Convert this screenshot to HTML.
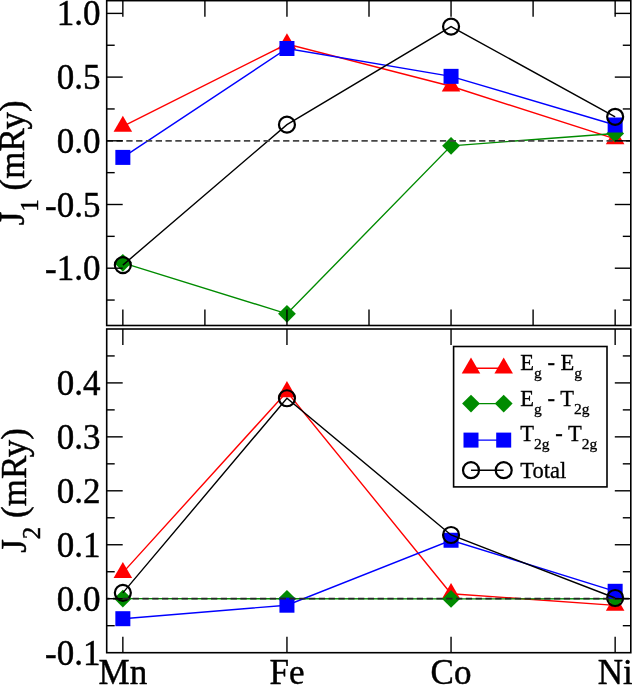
<!DOCTYPE html>
<html><head><meta charset="utf-8"><title>J1 J2 exchange</title>
<style>
html,body{margin:0;padding:0;background:#fff;}
body{width:632px;height:685px;overflow:hidden;}
svg{display:block;}
</style></head><body>
<svg width="632" height="685" viewBox="0 0 632 685">
<rect width="632" height="685" fill="#fff"/>
<g>
<polyline points="122.85,126.4 286.95,44 451.05,86.25 615.15,138.85" fill="none" stroke="#ff0000" stroke-width="1.4" stroke-linejoin="miter"/>
<polygon points="122.85,115.7 113.58,131.75 132.12,131.75" fill="#ff0000"/>
<polygon points="286.95,33.3 277.68,49.35 296.22,49.35" fill="#ff0000"/>
<polygon points="451.05,75.55 441.78,91.6 460.32,91.6" fill="#ff0000"/>
<polygon points="615.15,128.15 605.88,144.2 624.42,144.2" fill="#ff0000"/>
<polyline points="122.85,262.8 286.95,313.8 451.05,145.85 615.15,133.5" fill="none" stroke="#008b00" stroke-width="1.4" stroke-linejoin="miter"/>
<polygon points="122.85,253.9 131.75,262.8 122.85,271.7 113.95,262.8" fill="#008b00"/>
<polygon points="286.95,304.9 295.85,313.8 286.95,322.7 278.05,313.8" fill="#008b00"/>
<polygon points="451.05,136.95 459.95,145.85 451.05,154.75 442.15,145.85" fill="#008b00"/>
<polygon points="615.15,124.6 624.05,133.5 615.15,142.4 606.25,133.5" fill="#008b00"/>
<polyline points="122.85,157.4 286.95,48.5 451.05,76.35 615.15,125" fill="none" stroke="#0000ff" stroke-width="1.4" stroke-linejoin="miter"/>
<rect x="115.35" y="149.9" width="15" height="15" fill="#0000ff"/>
<rect x="279.45" y="41" width="15" height="15" fill="#0000ff"/>
<rect x="443.55" y="68.85" width="15" height="15" fill="#0000ff"/>
<rect x="607.65" y="117.5" width="15" height="15" fill="#0000ff"/>
<polyline points="122.85,265.1 286.95,124.65 451.05,26.6 615.15,116.8" fill="none" stroke="#000000" stroke-width="1.4" stroke-linejoin="miter"/>
<circle cx="122.85" cy="265.1" r="8" fill="none" stroke="#000000" stroke-width="2.2"/>
<circle cx="286.95" cy="124.65" r="8" fill="none" stroke="#000000" stroke-width="2.2"/>
<circle cx="451.05" cy="26.6" r="8" fill="none" stroke="#000000" stroke-width="2.2"/>
<circle cx="615.15" cy="116.8" r="8" fill="none" stroke="#000000" stroke-width="2.2"/>
<line x1="106.7" y1="140.8" x2="630.8" y2="140.8" stroke="#454545" stroke-width="1.8" stroke-dasharray="6.3 3.5"/>
<line x1="106.7" y1="268.2" x2="122.7" y2="268.2" stroke="#000000" stroke-width="1.4"/>
<line x1="614.8" y1="268.2" x2="630.8" y2="268.2" stroke="#000000" stroke-width="1.4"/>
<line x1="106.7" y1="204.5" x2="122.7" y2="204.5" stroke="#000000" stroke-width="1.4"/>
<line x1="614.8" y1="204.5" x2="630.8" y2="204.5" stroke="#000000" stroke-width="1.4"/>
<line x1="106.7" y1="140.8" x2="122.7" y2="140.8" stroke="#000000" stroke-width="1.4"/>
<line x1="614.8" y1="140.8" x2="630.8" y2="140.8" stroke="#000000" stroke-width="1.4"/>
<line x1="106.7" y1="77.1" x2="122.7" y2="77.1" stroke="#000000" stroke-width="1.4"/>
<line x1="614.8" y1="77.1" x2="630.8" y2="77.1" stroke="#000000" stroke-width="1.4"/>
<line x1="106.7" y1="13.4" x2="122.7" y2="13.4" stroke="#000000" stroke-width="1.4"/>
<line x1="614.8" y1="13.4" x2="630.8" y2="13.4" stroke="#000000" stroke-width="1.4"/>
<line x1="106.7" y1="300.05" x2="114.7" y2="300.05" stroke="#000000" stroke-width="1.4"/>
<line x1="622.8" y1="300.05" x2="630.8" y2="300.05" stroke="#000000" stroke-width="1.4"/>
<line x1="106.7" y1="236.35" x2="114.7" y2="236.35" stroke="#000000" stroke-width="1.4"/>
<line x1="622.8" y1="236.35" x2="630.8" y2="236.35" stroke="#000000" stroke-width="1.4"/>
<line x1="106.7" y1="172.65" x2="114.7" y2="172.65" stroke="#000000" stroke-width="1.4"/>
<line x1="622.8" y1="172.65" x2="630.8" y2="172.65" stroke="#000000" stroke-width="1.4"/>
<line x1="106.7" y1="108.95" x2="114.7" y2="108.95" stroke="#000000" stroke-width="1.4"/>
<line x1="622.8" y1="108.95" x2="630.8" y2="108.95" stroke="#000000" stroke-width="1.4"/>
<line x1="106.7" y1="45.25" x2="114.7" y2="45.25" stroke="#000000" stroke-width="1.4"/>
<line x1="622.8" y1="45.25" x2="630.8" y2="45.25" stroke="#000000" stroke-width="1.4"/>
<line x1="122.85" y1="0.66" x2="122.85" y2="16.66" stroke="#000000" stroke-width="1.4"/>
<line x1="122.85" y1="309.5" x2="122.85" y2="325.5" stroke="#000000" stroke-width="1.4"/>
<line x1="204.9" y1="0.66" x2="204.9" y2="16.66" stroke="#000000" stroke-width="1.4"/>
<line x1="204.9" y1="309.5" x2="204.9" y2="325.5" stroke="#000000" stroke-width="1.4"/>
<line x1="286.95" y1="0.66" x2="286.95" y2="16.66" stroke="#000000" stroke-width="1.4"/>
<line x1="286.95" y1="309.5" x2="286.95" y2="325.5" stroke="#000000" stroke-width="1.4"/>
<line x1="369" y1="0.66" x2="369" y2="16.66" stroke="#000000" stroke-width="1.4"/>
<line x1="369" y1="309.5" x2="369" y2="325.5" stroke="#000000" stroke-width="1.4"/>
<line x1="451.05" y1="0.66" x2="451.05" y2="16.66" stroke="#000000" stroke-width="1.4"/>
<line x1="451.05" y1="309.5" x2="451.05" y2="325.5" stroke="#000000" stroke-width="1.4"/>
<line x1="533.1" y1="0.66" x2="533.1" y2="16.66" stroke="#000000" stroke-width="1.4"/>
<line x1="533.1" y1="309.5" x2="533.1" y2="325.5" stroke="#000000" stroke-width="1.4"/>
<line x1="615.15" y1="0.66" x2="615.15" y2="16.66" stroke="#000000" stroke-width="1.4"/>
<line x1="615.15" y1="309.5" x2="615.15" y2="325.5" stroke="#000000" stroke-width="1.4"/>
<rect x="106.7" y="0.66" width="524.1" height="324.84" fill="none" stroke="#000" stroke-width="1.6"/>
</g>
<g>
<polyline points="122.85,572.6 286.95,391.8 451.05,593.7 615.15,605.35" fill="none" stroke="#ff0000" stroke-width="1.4" stroke-linejoin="miter"/>
<polygon points="122.85,561.9 113.58,577.95 132.12,577.95" fill="#ff0000"/>
<polygon points="286.95,381.1 277.68,397.15 296.22,397.15" fill="#ff0000"/>
<polygon points="451.05,583 441.78,599.05 460.32,599.05" fill="#ff0000"/>
<polygon points="615.15,594.65 605.88,610.7 624.42,610.7" fill="#ff0000"/>
<polyline points="122.85,598.6 286.95,598.8 451.05,598.9 615.15,598.7" fill="none" stroke="#008b00" stroke-width="1.4" stroke-linejoin="miter"/>
<polygon points="122.85,589.7 131.75,598.6 122.85,607.5 113.95,598.6" fill="#008b00"/>
<polygon points="286.95,589.9 295.85,598.8 286.95,607.7 278.05,598.8" fill="#008b00"/>
<polygon points="451.05,590 459.95,598.9 451.05,607.8 442.15,598.9" fill="#008b00"/>
<polygon points="615.15,589.8 624.05,598.7 615.15,607.6 606.25,598.7" fill="#008b00"/>
<polyline points="122.85,618.7 286.95,605.2 451.05,540.25 615.15,591.3" fill="none" stroke="#0000ff" stroke-width="1.4" stroke-linejoin="miter"/>
<rect x="115.35" y="611.2" width="15" height="15" fill="#0000ff"/>
<rect x="279.45" y="597.7" width="15" height="15" fill="#0000ff"/>
<rect x="443.55" y="532.75" width="15" height="15" fill="#0000ff"/>
<rect x="607.65" y="583.8" width="15" height="15" fill="#0000ff"/>
<polyline points="122.85,592.85 286.95,398.25 451.05,535 615.15,598" fill="none" stroke="#000000" stroke-width="1.4" stroke-linejoin="miter"/>
<circle cx="122.85" cy="592.85" r="8" fill="none" stroke="#000000" stroke-width="2.2"/>
<circle cx="286.95" cy="398.25" r="8" fill="none" stroke="#000000" stroke-width="2.2"/>
<circle cx="451.05" cy="535" r="8" fill="none" stroke="#000000" stroke-width="2.2"/>
<circle cx="615.15" cy="598" r="8" fill="none" stroke="#000000" stroke-width="2.2"/>
<line x1="106.7" y1="598.7" x2="630.8" y2="598.7" stroke="#262626" stroke-width="1.8" stroke-dasharray="6.3 3.5" stroke-dashoffset="3.5"/>
<line x1="106.7" y1="598.7" x2="122.7" y2="598.7" stroke="#000000" stroke-width="1.4"/>
<line x1="614.8" y1="598.7" x2="630.8" y2="598.7" stroke="#000000" stroke-width="1.4"/>
<line x1="106.7" y1="544.75" x2="122.7" y2="544.75" stroke="#000000" stroke-width="1.4"/>
<line x1="614.8" y1="544.75" x2="630.8" y2="544.75" stroke="#000000" stroke-width="1.4"/>
<line x1="106.7" y1="490.8" x2="122.7" y2="490.8" stroke="#000000" stroke-width="1.4"/>
<line x1="614.8" y1="490.8" x2="630.8" y2="490.8" stroke="#000000" stroke-width="1.4"/>
<line x1="106.7" y1="436.85" x2="122.7" y2="436.85" stroke="#000000" stroke-width="1.4"/>
<line x1="614.8" y1="436.85" x2="630.8" y2="436.85" stroke="#000000" stroke-width="1.4"/>
<line x1="106.7" y1="382.9" x2="122.7" y2="382.9" stroke="#000000" stroke-width="1.4"/>
<line x1="614.8" y1="382.9" x2="630.8" y2="382.9" stroke="#000000" stroke-width="1.4"/>
<line x1="106.7" y1="625.68" x2="114.7" y2="625.68" stroke="#000000" stroke-width="1.4"/>
<line x1="622.8" y1="625.68" x2="630.8" y2="625.68" stroke="#000000" stroke-width="1.4"/>
<line x1="106.7" y1="571.73" x2="114.7" y2="571.73" stroke="#000000" stroke-width="1.4"/>
<line x1="622.8" y1="571.73" x2="630.8" y2="571.73" stroke="#000000" stroke-width="1.4"/>
<line x1="106.7" y1="517.78" x2="114.7" y2="517.78" stroke="#000000" stroke-width="1.4"/>
<line x1="622.8" y1="517.78" x2="630.8" y2="517.78" stroke="#000000" stroke-width="1.4"/>
<line x1="106.7" y1="463.83" x2="114.7" y2="463.83" stroke="#000000" stroke-width="1.4"/>
<line x1="622.8" y1="463.83" x2="630.8" y2="463.83" stroke="#000000" stroke-width="1.4"/>
<line x1="106.7" y1="409.88" x2="114.7" y2="409.88" stroke="#000000" stroke-width="1.4"/>
<line x1="622.8" y1="409.88" x2="630.8" y2="409.88" stroke="#000000" stroke-width="1.4"/>
<line x1="106.7" y1="355.93" x2="114.7" y2="355.93" stroke="#000000" stroke-width="1.4"/>
<line x1="622.8" y1="355.93" x2="630.8" y2="355.93" stroke="#000000" stroke-width="1.4"/>
<line x1="122.85" y1="329" x2="122.85" y2="345" stroke="#000000" stroke-width="1.4"/>
<line x1="122.85" y1="636.7" x2="122.85" y2="652.7" stroke="#000000" stroke-width="1.4"/>
<line x1="286.95" y1="329" x2="286.95" y2="345" stroke="#000000" stroke-width="1.4"/>
<line x1="286.95" y1="636.7" x2="286.95" y2="652.7" stroke="#000000" stroke-width="1.4"/>
<line x1="451.05" y1="329" x2="451.05" y2="345" stroke="#000000" stroke-width="1.4"/>
<line x1="451.05" y1="636.7" x2="451.05" y2="652.7" stroke="#000000" stroke-width="1.4"/>
<line x1="615.15" y1="329" x2="615.15" y2="345" stroke="#000000" stroke-width="1.4"/>
<line x1="615.15" y1="636.7" x2="615.15" y2="652.7" stroke="#000000" stroke-width="1.4"/>
<rect x="106.7" y="329" width="524.1" height="323.7" fill="none" stroke="#000" stroke-width="1.6"/>
</g>
<g font-family="'Liberation Serif', 'Times New Roman', serif" font-size="35" fill="#000" stroke="#000" stroke-width="0.45">
<text x="100.5" y="25.4" text-anchor="end">1.0</text>
<text x="100.5" y="89.1" text-anchor="end">0.5</text>
<text x="100.5" y="152.8" text-anchor="end">0.0</text>
<text x="100.5" y="216.5" text-anchor="end">-0.5</text>
<text x="100.5" y="280.2" text-anchor="end">-1.0</text>
<text x="100.5" y="394.9" text-anchor="end">0.4</text>
<text x="100.5" y="448.85" text-anchor="end">0.3</text>
<text x="100.5" y="502.8" text-anchor="end">0.2</text>
<text x="100.5" y="556.75" text-anchor="end">0.1</text>
<text x="100.5" y="610.7" text-anchor="end">0.0</text>
<text x="100.5" y="664.65" text-anchor="end">-0.1</text>
<text x="122.85" y="684.2" text-anchor="middle">Mn</text>
<text x="286.95" y="684.2" text-anchor="middle">Fe</text>
<text x="451.05" y="684.2" text-anchor="middle">Co</text>
<text x="615.15" y="684.2" text-anchor="middle">Ni</text>
<text transform="translate(23.6,162.85) rotate(-90)" text-anchor="middle" font-size="35">J<tspan font-size="25" dy="14">1</tspan><tspan dy="-14"> (mRy)</tspan></text>
<text transform="translate(26.2,490.45) rotate(-90)" text-anchor="middle" font-size="35">J<tspan font-size="25" dy="14">2</tspan><tspan dy="-14"> (mRy)</tspan></text>
</g>
<rect x="453.6" y="346.5" width="153.4" height="140.4" fill="#fff" stroke="#000" stroke-width="1.6"/>
<line x1="471" y1="368.2" x2="503.7" y2="368.2" stroke="#ff0000" stroke-width="1.4"/>
<polygon points="471,357.5 461.73,373.55 480.27,373.55" fill="#ff0000"/>
<polygon points="503.7,357.5 494.43,373.55 512.97,373.55" fill="#ff0000"/>
<line x1="471" y1="403.6" x2="503.7" y2="403.6" stroke="#008b00" stroke-width="1.4"/>
<polygon points="471,394.7 479.9,403.6 471,412.5 462.1,403.6" fill="#008b00"/>
<polygon points="503.7,394.7 512.6,403.6 503.7,412.5 494.8,403.6" fill="#008b00"/>
<line x1="471" y1="440.1" x2="503.7" y2="440.1" stroke="#0000ff" stroke-width="1.4"/>
<rect x="463.5" y="432.6" width="15" height="15" fill="#0000ff"/>
<rect x="496.2" y="432.6" width="15" height="15" fill="#0000ff"/>
<line x1="471" y1="470.2" x2="503.7" y2="470.2" stroke="#000000" stroke-width="1.4"/>
<circle cx="471" cy="470.2" r="8" fill="none" stroke="#000000" stroke-width="2.2"/>
<circle cx="503.7" cy="470.2" r="8" fill="none" stroke="#000000" stroke-width="2.2"/>
<g font-family="'Liberation Serif', 'Times New Roman', serif" font-size="22.5" fill="#000" stroke="#000" stroke-width="0.3" xml:space="preserve">
<text x="520.3" y="369.5">E<tspan font-size="15.5" dy="8.4">g</tspan><tspan dy="-8.4"> - E</tspan><tspan font-size="15.5" dy="8.4">g</tspan></text>
<text x="520.3" y="405.6">E<tspan font-size="15.5" dy="8.4">g</tspan><tspan dy="-8.4"> - T</tspan><tspan font-size="15.5" dy="8.4">2g</tspan></text>
<text x="520.3" y="441">T<tspan font-size="15.5" dy="8.4">2g</tspan><tspan dy="-8.4"> - T</tspan><tspan font-size="15.5" dy="8.4">2g</tspan></text>
<text x="520.3" y="477.9">Total</text>
</g>
</svg>
</body></html>
